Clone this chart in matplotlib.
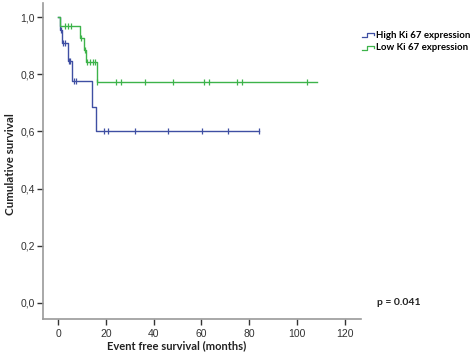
import matplotlib
matplotlib.use("Agg")
import matplotlib.pyplot as plt
from matplotlib.lines import Line2D
from matplotlib.legend_handler import HandlerBase

# Kaplan-Meier step data (time in months, survival)
high_t = [0, 1.0, 1.7, 4.3, 6.0, 14.1, 15.8, 84.2]
high_s = [1.0, 0.955, 0.909, 0.845, 0.775, 0.686, 0.600, 0.600]
high_cens_t = [1.2, 2.2, 2.9, 4.6, 5.2, 6.7, 7.5, 19.4, 21.0, 32.2, 46.1, 60.1, 71.2, 84.2]

low_t = [0, 1.0, 9.2, 10.9, 11.7, 16.3, 108.5]
low_s = [1.0, 0.969, 0.928, 0.885, 0.842, 0.774, 0.774]
low_cens_t = [2.9, 4.3, 5.3, 9.4, 11.3, 12.3, 13.4, 14.5, 15.6, 16.5, 24.3, 26.2, 36.3,
              48.2, 61.1, 63.3, 74.8, 76.9, 104.0]

labels = ["High Ki 67 expression", "Low Ki 67 expression"]
blue = "#3f4fa3"
green = "#3db34a"


def surv_at(times, surv, t):
    val = surv[0]
    for ti, si in zip(times, surv):
        if ti <= t:
            val = si
    return val


class StepHandler(HandlerBase):
    def create_artists(self, legend, orig_handle, xdescent, ydescent,
                       width, height, fontsize, trans):
        x0, x1 = -xdescent, -xdescent + width
        xm = x0 + width * 0.45
        y0 = -ydescent + height * 0.1
        y1 = -ydescent + height * 0.65
        line = Line2D([x0, xm, xm, x1, x1], [y0, y0, y1, y1, y0 + height * 0.3],
                      color=orig_handle.get_color(), lw=0.9, transform=trans)
        return [line]


fig = plt.figure(figsize=(4.74, 3.56), dpi=100)
ax = fig.add_axes([0.0907, 0.104, 0.671, 0.888])

h1, = ax.step(high_t, high_s, where="post", color=blue, lw=1.0)
ax.plot(high_cens_t, [surv_at(high_t, high_s, t) for t in high_cens_t],
        ls="none", marker="|", ms=5, mew=0.9, color=blue)
h2, = ax.step(low_t, low_s, where="post", color=green, lw=1.0)
ax.plot(low_cens_t, [surv_at(low_t, low_s, t) for t in low_cens_t],
        ls="none", marker="|", ms=5, mew=0.9, color=green)

ax.set_xlim(-6.3, 126.8)
ax.set_ylim(-0.056, 1.05)
ax.set_xticks([0, 20, 40, 60, 80, 100, 120])
ax.set_yticks([0, 0.2, 0.4, 0.6, 0.8, 1.0])
ax.set_yticklabels(["0,0", "0,2", "0,4", "0,6", "0,8", "1,0"])

for side in ["top", "right"]:
    ax.spines[side].set_visible(False)
for side in ["left", "bottom"]:
    ax.spines[side].set_color("#9a9a9a")
    ax.spines[side].set_linewidth(1.2)
ax.tick_params(axis="both", labelsize=7.5, colors="#333333", length=4, width=1.0)
ax.tick_params(axis="x", pad=3)
ax.tick_params(axis="y", pad=2)
for lab in ax.get_xticklabels() + ax.get_yticklabels():
    lab.set_family("Liberation Sans")

ax.set_xlabel("Event free survival (months)", fontsize=8, fontweight="bold",
              family="Lato", color="#222222")
ax.xaxis.set_label_coords(0.42, -0.068)
ax.set_ylabel("Cumulative survival", fontsize=8.3, fontweight="bold",
              family="Lato", color="#222222")
ax.yaxis.set_label_coords(-0.085, 0.49)

fig.legend([h1, h2], labels, loc="upper left", bbox_to_anchor=(0.763, 0.914),
           frameon=False, handler_map={Line2D: StepHandler()},
           handlelength=1.3, handletextpad=0.15, labelspacing=0.4,
           prop={"family": "Lato", "weight": "bold", "size": 6.9},
           borderaxespad=0, borderpad=0)

fig.text(0.795, 0.143, "p = 0.041", fontsize=7.5, fontweight="bold",
         family="Lato", color="#222222")

fig.savefig("out.png", dpi=100)
